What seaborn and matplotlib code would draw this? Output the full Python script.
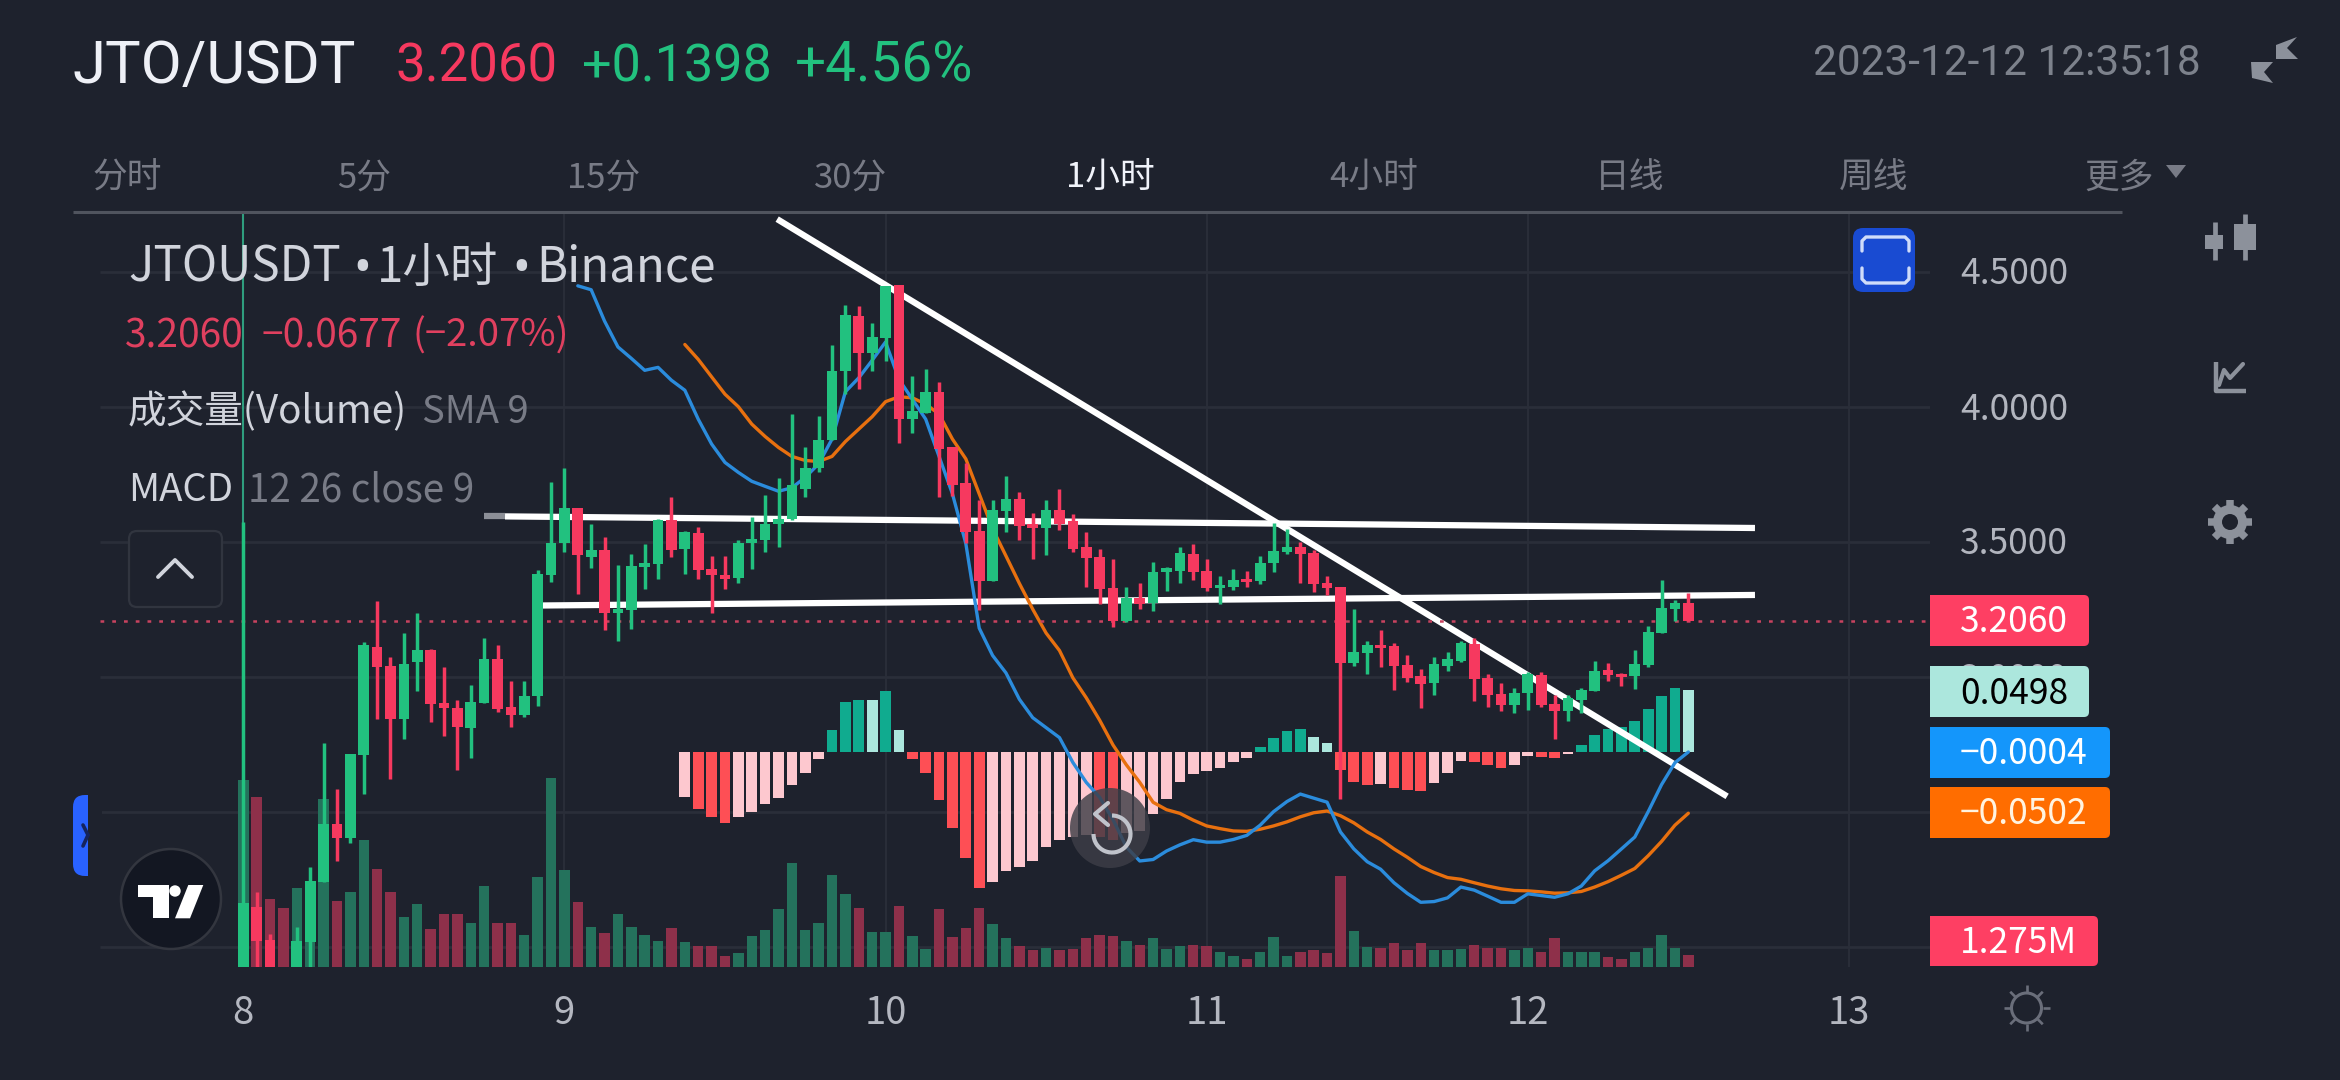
import numpy as np
import pandas as pd
import matplotlib
matplotlib.use("Agg")
import matplotlib.pyplot as plt
from matplotlib.patches import Circle, FancyBboxPatch, Polygon, Rectangle, Arc
import seaborn as sns

# Hourly JTO/USDT candles, 8 Dec 00:00 onward
opens = [1.90,2.147,2.024,1.90,1.90,2.015,2.239,2.454,2.401,2.708,3.109,3.039,2.842,3.052,3.098,2.901,2.883,2.809,2.901,3.066,
         2.888,2.859,2.929,3.375,3.493,3.623,3.443,3.469,3.237,3.246,3.406,3.416,3.581,3.474,3.531,3.397,3.375,3.366,3.493,3.507,
         3.563,3.585,3.695,3.774,3.875,4.132,4.335,4.197,4.252,4.450,3.952,3.976,4.053,3.851,3.715,3.539,3.355,3.612,3.658,3.563,
         3.550,3.618,3.576,3.480,3.443,3.327,3.204,3.292,3.274,3.388,3.392,3.452,3.389,3.328,3.331,3.362,3.352,3.421,3.462,3.481,
         3.456,3.346,3.331,3.049,3.086,3.118,3.114,3.042,3.001,2.976,3.040,3.059,3.121,2.996,2.936,2.896,2.938,3.005,2.898,2.873,
         2.913,2.946,3.024,3.011,3.001,3.042,3.161,3.249,3.274]
highs = [3.572,2.202,2.046,1.91,2.074,2.294,2.754,2.583,2.712,3.127,3.281,3.072,3.162,3.237,3.103,3.035,2.914,2.969,3.144,3.118,
         2.984,2.984,3.393,3.719,3.774,3.623,3.563,3.517,3.412,3.452,3.489,3.585,3.664,3.539,3.553,3.447,3.447,3.504,3.590,3.673,
         3.734,3.972,3.851,3.963,4.228,4.377,4.371,4.311,4.445,4.450,4.114,4.138,4.090,3.851,3.792,3.654,3.654,3.741,3.682,3.605,
         3.654,3.695,3.603,3.535,3.471,3.434,3.333,3.348,3.425,3.406,3.480,3.490,3.437,3.371,3.397,3.389,3.447,3.569,3.547,3.500,
         3.468,3.374,3.331,3.249,3.130,3.171,3.124,3.080,3.026,3.071,3.090,3.130,3.143,3.011,2.976,2.958,3.017,3.017,2.930,2.930,
         2.957,3.059,3.049,3.014,3.099,3.186,3.356,3.283,3.309]
lows = [1.90,1.90,1.90,1.80,1.88,1.90,2.239,2.316,2.383,2.565,2.842,2.620,2.767,2.947,2.833,2.778,2.653,2.699,2.901,2.870,
        2.813,2.850,2.892,3.351,3.462,3.305,3.401,3.173,3.131,3.177,3.324,3.361,3.443,3.379,3.361,3.237,3.324,3.348,3.397,3.462,
        3.480,3.581,3.664,3.756,3.875,4.046,4.064,4.132,4.169,3.866,3.903,3.976,3.664,3.669,3.495,3.245,3.355,3.535,3.507,3.434,
        3.449,3.544,3.462,3.333,3.269,3.182,3.201,3.250,3.241,3.315,3.346,3.356,3.318,3.268,3.322,3.331,3.343,3.387,3.452,3.347,
        3.314,3.302,2.545,3.040,3.011,3.034,2.951,2.980,2.883,2.933,3.021,3.055,2.911,2.886,2.871,2.863,2.876,2.888,2.767,2.836,
        2.864,2.946,2.982,2.963,2.953,3.034,3.161,3.205,3.206]
closes = [2.160,2.022,1.90,1.85,2.019,2.243,2.454,2.401,2.712,3.118,3.035,2.842,3.048,3.098,2.897,2.884,2.813,2.905,3.066,2.879,
          2.859,2.929,3.379,3.495,3.623,3.449,3.469,3.237,3.250,3.410,3.419,3.581,3.467,3.535,3.393,3.375,3.361,3.495,3.511,3.566,
          3.585,3.710,3.774,3.875,4.132,4.338,4.197,4.256,4.445,3.952,3.985,4.053,3.844,3.710,3.535,3.355,3.618,3.658,3.559,3.550,
          3.618,3.563,3.474,3.438,3.324,3.204,3.291,3.269,3.388,3.403,3.458,3.387,3.328,3.339,3.359,3.349,3.422,3.466,3.481,3.452,
          3.343,3.327,3.051,3.089,3.118,3.107,3.039,2.995,2.973,3.046,3.065,3.124,2.992,2.933,2.896,2.938,3.009,2.896,2.873,2.920,
          2.951,3.021,3.005,2.999,3.045,3.164,3.252,3.272,3.206]
volumes = [20.2,18.4,7.3,6.4,8.5,6.5,18.1,7.1,8.1,13.7,10.6,8.1,5.4,6.8,4.1,5.7,5.7,4.7,8.7,4.7,
           4.7,3.5,9.7,20.4,10.5,7.0,4.3,3.7,5.7,4.3,3.5,2.8,4.2,2.7,2.3,2.3,1.2,1.5,3.4,4.0,
           6.3,11.2,4.0,4.7,9.9,7.9,6.4,3.8,3.8,6.6,3.4,1.9,6.3,3.2,4.2,6.4,4.6,3.1,2.3,1.8,
           2.0,1.8,1.9,3.1,3.5,3.3,2.8,2.4,3.1,1.9,2.3,2.4,2.3,1.6,1.2,0.9,1.6,3.2,1.2,1.6,
           1.8,1.5,9.8,3.9,2.2,2.0,2.6,1.8,2.6,1.8,1.8,1.9,2.4,2.0,2.0,1.8,2.1,1.6,3.1,1.6,
           1.6,1.6,1.1,0.9,1.6,2.0,3.5,2.0,1.275]

# MACD(12, 26, 9): series begin once their lookback windows have filled
hist_start = 33
hist_values = [-0.0372,-0.0465,-0.0534,-0.0583,-0.0534,-0.0494,-0.0425,-0.0380,-0.0271,-0.0178,-0.0057,0.0174,0.0405,0.0417,0.0415,
               0.0489,0.0174,-0.0057,-0.0178,-0.0392,-0.0623,-0.0866,-0.1112,-0.1060,-0.0971,-0.0939,-0.0890,-0.0777,-0.0716,-0.0696,
               -0.0676,-0.0696,-0.0720,-0.0660,-0.0650,-0.0506,-0.0384,-0.0251,-0.0181,-0.0159,-0.0132,-0.0082,-0.0055,0.0038,0.0110,
               0.0165,0.0184,0.0115,0.0069,-0.0154,-0.0247,-0.0269,-0.0268,-0.0297,-0.0311,-0.0319,-0.0256,-0.0173,-0.0077,-0.0085,
               -0.0110,-0.0132,-0.0110,-0.0036,-0.0044,-0.0052,-0.0022,0.0052,0.0135,0.0184,0.0203,0.0247,0.0344,0.0454,0.0514,0.0498]
macd_start = 25
macd_line = [0.3786,0.3754,0.3499,0.3289,0.3196,0.3099,0.3123,0.3018,0.2937,0.2702,0.2500,0.2350,0.2269,0.2197,0.2156,0.2116,
             0.2144,0.2229,0.2338,0.2540,0.2925,0.3038,0.3180,0.3329,0.3026,0.2864,0.2702,0.2399,0.2095,0.1691,0.1003,0.0781,
             0.0639,0.0425,0.0275,0.0194,0.0113,-0.0089,-0.0251,-0.0372,-0.0554,-0.0777,-0.0890,-0.0878,-0.0809,-0.0759,-0.0717,
             -0.0737,-0.0737,-0.0715,-0.0682,-0.0599,-0.0489,-0.0407,-0.0346,-0.0379,-0.0412,-0.0654,-0.0792,-0.0896,-0.0957,
             -0.1067,-0.1154,-0.1226,-0.1220,-0.1190,-0.1102,-0.1127,-0.1176,-0.1226,-0.1226,-0.1157,-0.1171,-0.1185,-0.1157,
             -0.1094,-0.0970,-0.0888,-0.0792,-0.0695,-0.0489,-0.0269,-0.0091,-0.0004]
signal_start = 33
signal_line = [0.3309,0.3188,0.3046,0.2905,0.2803,0.2662,0.2561,0.2472,0.2399,0.2366,0.2358,0.2399,0.2520,0.2621,0.2722,0.2844,
               0.2884,0.2876,0.2824,0.2743,0.2540,0.2379,0.2095,0.1812,0.1590,0.1367,0.1157,0.0963,0.0821,0.0599,0.0437,0.0255,
               0.0053,-0.0109,-0.0251,-0.0413,-0.0473,-0.0503,-0.0558,-0.0605,-0.0627,-0.0646,-0.0649,-0.0632,-0.0605,-0.0572,
               -0.0531,-0.0498,-0.0484,-0.0522,-0.0580,-0.0654,-0.0715,-0.0792,-0.0860,-0.0935,-0.0984,-0.1025,-0.1039,-0.1067,
               -0.1094,-0.1116,-0.1130,-0.1133,-0.1141,-0.1152,-0.1149,-0.1138,-0.1102,-0.1058,-0.1006,-0.0951,-0.0847,-0.0731,
               -0.0599,-0.0502]

# Hand-drawn trend lines: (bar, price) at each end
resistance_x, resistance_y = [19.56, 112.98], [3.593, 3.550]
resistance_stub_x, resistance_stub_y = [18.0, 19.56], [3.593, 3.593]
support_x, support_y = [22.3, 112.98], [3.263, 3.302]
downtrend_x, downtrend_y = [39.9, 110.9], [4.694, 2.556]

day_ticks = [0, 24, 48, 72, 96, 120]
day_labels = ["8", "9", "10", "11", "12", "13"]
price_grid = [4.5, 4.0, 3.5, 3.0, 2.5, 2.0]
price_labels = ["4.5000", "4.0000", "3.5000", "3.0000"]
last_price = 3.206

BG = "#1e222d"
GRID = "#2a2e39"
UP = "#22c17f"
DOWN = "#f6395f"
VOL_UP = "#24725c"
VOL_DOWN = "#8e304a"
BLUE = "#2b8cdc"
ORANGE = "#e8700f"
MUTED = "#787b86"
LIGHT = "#d1d4dc"

W, H = 2340, 1080
sns.set_theme(style="dark", rc={"axes.facecolor": BG, "figure.facecolor": BG})
plt.rcParams["font.family"] = ["Noto Sans CJK SC", "DejaVu Sans"]

bars = np.arange(len(closes))
closes_arr, opens_arr = np.array(closes), np.array(opens)
rising = closes_arr >= opens_arr
candles = pd.DataFrame({"bar": bars, "volume": volumes,
                        "side": np.where(rising, "up", "down")})

hist_arr = np.array(hist_values)
hist_prev = np.r_[hist_arr[0] - 1, hist_arr[:-1]]
hist_state = np.select(
    [(hist_arr >= 0) & (hist_arr >= hist_prev), hist_arr >= 0, hist_arr < hist_prev],
    ["pos_up", "pos_down", "neg_down"], "neg_up")
hist_df = pd.DataFrame({"bar": bars[hist_start:], "value": hist_arr, "state": hist_state})
macd_df = pd.DataFrame({"bar": bars[macd_start:], "value": macd_line})
signal_df = pd.DataFrame({"bar": bars[signal_start:], "value": signal_line})

fig = plt.figure(figsize=(W / 100, H / 100), dpi=100, facecolor=BG)


def pane(z):
    # All panes share one rectangle of the screen and one bar scale
    left, right, top, bottom = 100, 1930, 212, 967
    ax = fig.add_axes([left / W, 1 - bottom / H, (right - left) / W, (bottom - top) / H], zorder=z)
    ax.patch.set_alpha(0)
    return ax


vol_ax, macd_ax, price_ax = pane(1), pane(2), pane(3)
vol_ax.patch.set_alpha(1)
vol_ax.patch.set_facecolor(BG)

BAR_PX = 13.38
xlim = ((100 - 243.3) / BAR_PX, (1930 - 243.3) / BAR_PX)
price_scale = 270.0
price_lim = (4.5 - (967 - 271.5) / price_scale, 4.5 + (271.5 - 212) / price_scale)
macd_scale = 1230.0
macd_lim = ((751.5 - 967) / macd_scale, (751.5 - 212) / macd_scale)
vol_lim = (0, 755 * 0.108)

# Volume and its backdrop grid
sns.barplot(data=candles, x="bar", y="volume", hue="side", palette={"up": VOL_UP, "down": VOL_DOWN},
            native_scale=True, dodge=False, width=0.78, saturation=1, errorbar=None, legend=False,
            ax=vol_ax, zorder=3, linewidth=0)
price_ax.set(xlim=xlim, ylim=price_lim)
vol_ax.hlines(price_grid, 0, 1, transform=price_ax.get_yaxis_transform(), color=GRID, lw=2.0, zorder=1)
vol_ax.vlines(day_ticks, 0, 1, transform=vol_ax.get_xaxis_transform(), color=GRID, lw=1.4, zorder=1)

# MACD histogram, trend lines, then the MACD and signal curves
sns.barplot(data=hist_df, x="bar", y="value", hue="state",
            palette={"pos_up": "#10ab8f", "pos_down": "#ace7dd", "neg_down": "#fe4f55", "neg_up": "#fdc8cf"},
            native_scale=True, dodge=False, width=0.8, saturation=1, errorbar=None, legend=False,
            ax=macd_ax, zorder=1, linewidth=0)
macd_ax.set(xlim=xlim, ylim=macd_lim)
for tx, ty in [(resistance_x, resistance_y), (support_x, support_y), (downtrend_x, downtrend_y)]:
    macd_ax.plot(tx, ty, color="white", lw=4.5, solid_capstyle="butt",
                 transform=price_ax.transData, zorder=2)
macd_ax.plot(resistance_stub_x, resistance_stub_y, color="#8c8f97", lw=4.5, solid_capstyle="butt",
             transform=price_ax.transData, zorder=2)
sns.lineplot(data=signal_df, x="bar", y="value", color=ORANGE, linewidth=2.4, ax=macd_ax, zorder=3)
sns.lineplot(data=macd_df, x="bar", y="value", color=BLUE, linewidth=2.4, ax=macd_ax, zorder=4)

# Last-price marker and candles
price_ax.hlines(last_price, 0, 1, transform=price_ax.get_yaxis_transform(), color="#c8425f", lw=1.8,
                linestyles=[(0, (1.5, 3.2))], zorder=2)
price_ax.axvline(0, color="#2f9e7e", lw=1.5, zorder=3)
colours = np.where(rising, UP, DOWN)
price_ax.vlines(bars, lows, highs, colors=colours, lw=2.5, zorder=4)
price_ax.bar(bars, closes_arr - opens_arr, bottom=opens_arr, width=0.8, color=colours, linewidth=0, zorder=5)

for ax, lim in [(vol_ax, vol_lim), (macd_ax, macd_lim), (price_ax, price_lim)]:
    ax.set(xlim=xlim, ylim=lim, xlabel="", ylabel="", xticks=[], yticks=[])
    for spine in ax.spines.values():
        spine.set_visible(False)

# Screen-space layer for the app chrome, axis labels and value tags
ui = fig.add_axes([0, 0, 1, 1], zorder=10)
ui.set(xlim=(0, W), ylim=(H, 0))
ui.axis("off")
ui.patch.set_alpha(0)


def label(x, y, s, size, color, family=None, ha="left", va="baseline", weight="normal"):
    kw = {"family": family} if family else {}
    return ui.text(x, y, s, fontsize=size, color=color, ha=ha, va=va, fontweight=weight, **kw)


def round_box(x0, y0, x1, y1, color, radius=5, square_left=False, z=2, **kw):
    ui.add_patch(FancyBboxPatch((x0, y0), x1 - x0, y1 - y0, boxstyle=f"round,pad=0,rounding_size={radius}",
                                facecolor=color, zorder=z, **kw))
    if square_left:
        ui.add_patch(Rectangle((x0, y0), radius + 1, y1 - y0, facecolor=color, linewidth=0, zorder=z))


# Header row
label(72, 83, "JTO/USDT", 43, "#eef0f6", "Roboto")
label(396, 82, "3.2060", 38, DOWN, "Roboto")
label(582, 82, "+0.1398", 37.5, UP, "Roboto")
label(795, 82, "+4.56%", 39.5, UP, "Roboto")
label(1813, 75, "2023-12-12 12:35:18", 30.4, "#7d828c", "Roboto")

# Interval tabs
tabs = [(127, "分时"), (364, "5分"), (604, "15分"), (851, "30分"), (1110, "1小时"), (1374, "4小时"),
        (1630, "日线"), (1874, "周线"), (2119, "更多")]
for x, s in tabs:
    label(x, 178, s, 25, "#f0f3fa" if s == "1小时" else MUTED, ha="center", va="center")
ui.add_patch(Polygon([(2166, 165), (2186, 165), (2176, 178)], facecolor=MUTED, linewidth=0, zorder=3))
ui.plot([73, 2122], [212, 212], color="#50545e", lw=2.2, solid_capstyle="butt", zorder=1)

# Pane legend
LEGEND_SIZE = 34.2
label(128, 282, "JTOUSDT", LEGEND_SIZE, LIGHT)
label(362, 282, "•", LEGEND_SIZE, LIGHT, ha="center", family="Noto Sans")
label(377, 282, "1小时", LEGEND_SIZE, LIGHT)
label(521, 282, "•", LEGEND_SIZE, LIGHT, ha="center", family="Noto Sans")
label(536, 282, "Binance", LEGEND_SIZE, LIGHT)
label(125, 347, "3.2060", 28, "#e0405f")
label(262, 347, "−0.0677", 28, "#e0405f")
label(413, 347, "(−2.07%)", 27.6, "#e0405f")
label(128, 423, "成交量(Volume)", 27.8, LIGHT)
label(422, 423, "SMA 9", 27.5, MUTED)
label(128, 501, "MACD", 27.6, LIGHT)
label(248, 501, "12 26 close 9", 27.8, MUTED)
round_box(129, 531, 222, 607, BG, radius=8, edgecolor="#31353f", linewidth=1.6)
ui.plot([158, 175, 192], [577, 560, 577], color=LIGHT, lw=2.8, solid_capstyle="round", zorder=3)

# Time and price axes
for tick, s in zip(day_ticks, day_labels):
    label(243.3 + tick * BAR_PX, 1014, s, 27.5, "#b4b7c0", ha="center", va="center", weight="medium")
for p, s in zip(price_grid, price_labels):
    label(1960, 274.5 + (4.5 - p) * price_scale, s, 25.5, "#b2b5be", va="center")

# Value tags, stacked over the axis labels
tags = [(595, 646, 2089, "3.2060", "#fe3f63", "white"),
        (666, 717, 2089, "0.0498", "#ace7dd", "black"),
        (727, 778, 2110, "−0.0004", "#1496fb", "white"),
        (787, 838, 2110, "−0.0502", "#ff6d00", "#fff3e0"),
        (916, 966, 2098, "1.275M", "#fe3f63", "white")]
for y0, y1, x1, s, fill, ink in tags:
    round_box(1930, y0, x1, y1, fill, radius=5, square_left=True, z=4, linewidth=0)
    t = label(1960, (y0 + y1) / 2 + 2, s, 25.5, ink, va="center")
    t.set_zorder(5)

# Fit-screen button
round_box(1853, 228, 1915, 292, "#194bd2", radius=10, linewidth=0)
ui.plot([1862, 1862, 1866, 1905, 1909, 1909], [251, 241, 237, 237, 241, 251], color="#cfdcfa", lw=2.4, zorder=3)
ui.plot([1862, 1862, 1866, 1905, 1909, 1909], [268, 279, 283, 283, 279, 268], color="#cfdcfa", lw=2.4, zorder=3)

# Fullscreen toggle
ICON = "#8c919b"
ui.add_patch(Polygon([(2276, 59), (2298, 59), (2287, 48), (2297, 37), (2276, 45)], facecolor=ICON, linewidth=0))
ui.add_patch(Polygon([(2251, 62), (2273, 62), (2264, 72), (2273, 83), (2252, 78)], facecolor=ICON, linewidth=0))

# Side toolbar: candles, indicator and settings glyphs
ui.vlines([2215, 2245], [222, 214], [260, 260], color=ICON, lw=3.4)
ui.add_patch(Rectangle((2205, 235), 18, 14, facecolor=ICON, linewidth=0))
ui.add_patch(Rectangle((2234, 224), 22, 26, facecolor=ICON, linewidth=0))
ui.plot([2216, 2216, 2246], [362, 391, 391], color=ICON, lw=3.2, solid_capstyle="butt")
ui.plot([2219, 2224, 2230, 2243], [385, 370, 378, 364], color=ICON, lw=3.0)
ui.add_patch(Circle((2230, 522), 17, facecolor=ICON, linewidth=0))
for a in np.arange(0, 360, 45):
    r = np.deg2rad(a)
    ui.plot([2230 + 14 * np.cos(r), 2230 + 22 * np.cos(r)], [522 + 14 * np.sin(r), 522 + 22 * np.sin(r)],
            color=ICON, lw=5.4, solid_capstyle="butt")
ui.add_patch(Circle((2230, 522), 8, facecolor=BG, linewidth=0, zorder=3))

# Auto-scale sun glyph
SUN = "#6a6e7a"
ui.add_patch(Circle((2026.5, 1008), 15, facecolor="none", edgecolor=SUN, linewidth=2.2))
for a in np.arange(0, 360, 45):
    r = np.deg2rad(a)
    ui.plot([2026.5 + 16 * np.cos(r), 2026.5 + 23 * np.cos(r)], [1008 + 16 * np.sin(r), 1008 + 23 * np.sin(r)],
            color=SUN, lw=1.9, solid_capstyle="butt")

# Collapsed drawing-tools tab
round_box(73, 795, 100, 876, "#2962ff", radius=12, linewidth=0)
ui.add_patch(Rectangle((88, 790), 14, 90, facecolor=BG, linewidth=0, zorder=3))
ui.plot([83, 88], [825, 835], color="#15245c", lw=2.6, zorder=4)
ui.plot([88, 83], [835, 846], color="#15245c", lw=2.6, zorder=4)

# Vendor badge
ui.add_patch(Circle((171, 899), 50, facecolor="#131722", edgecolor="#33363f", linewidth=1.8, zorder=3))
for pts in ([(138.3, 885), (169, 885), (169, 918.3), (153.3, 918.3), (153.3, 897.3), (138.3, 897.3)],
            [(188.3, 885), (203.3, 885), (190, 918.3), (175, 918.3)]):
    ui.add_patch(Polygon(pts, facecolor="white", linewidth=0, zorder=4))
ui.add_patch(Circle((175, 891), 5.7, facecolor="white", linewidth=0, zorder=4))

# Jump-to-latest button
ui.add_patch(Circle((1110, 828), 40, facecolor="#3d3e47", alpha=0.82, linewidth=0, zorder=3))
ui.add_patch(Arc((1112, 834), 37, 37, theta1=-90, theta2=180, color="#c0c3cb", lw=3.0, zorder=4))
ui.plot([1108, 1095, 1108], [803, 814, 825], color="#c0c3cb", lw=3.0, zorder=4)

fig.savefig("out.png", dpi=100, facecolor=BG)
